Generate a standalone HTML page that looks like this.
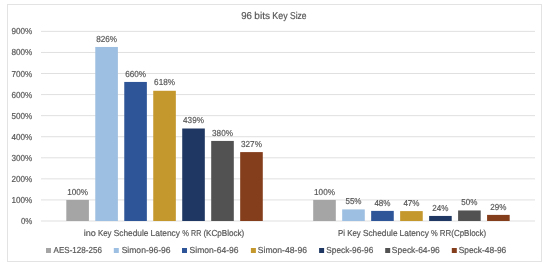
<!DOCTYPE html>
<html><head><meta charset="utf-8"><title>96 bits Key Size</title>
<style>
html,body{margin:0;padding:0;background:#fff;width:550px;height:268px;overflow:hidden}
svg{display:block;font-family:"Liberation Sans",Arial,sans-serif}
text{text-rendering:geometricPrecision;stroke-width:0.2px}
</style></head><body>
<svg width="550" height="268" viewBox="0 0 550 268">
<rect x="7.5" y="4.5" width="534" height="257" fill="#fff" stroke="#E3E3E3" stroke-width="1"/>
<rect x="41" y="220.50" width="494" height="1" fill="#E0E0E0"/>
<rect x="41" y="199.43" width="494" height="1" fill="#E0E0E0"/>
<rect x="41" y="178.36" width="494" height="1" fill="#E0E0E0"/>
<rect x="41" y="157.29" width="494" height="1" fill="#E0E0E0"/>
<rect x="41" y="136.22" width="494" height="1" fill="#E0E0E0"/>
<rect x="41" y="115.15" width="494" height="1" fill="#E0E0E0"/>
<rect x="41" y="94.08" width="494" height="1" fill="#E0E0E0"/>
<rect x="41" y="73.01" width="494" height="1" fill="#E0E0E0"/>
<rect x="41" y="51.94" width="494" height="1" fill="#E0E0E0"/>
<rect x="41" y="30.87" width="494" height="1" fill="#E0E0E0"/>
<rect x="66.30" y="199.93" width="22.6" height="21.07" fill="#A5A5A5"/>
<rect x="95.28" y="46.96" width="22.6" height="174.04" fill="#9DBFE1"/>
<rect x="124.26" y="81.94" width="22.6" height="139.06" fill="#2E5598"/>
<rect x="153.24" y="90.79" width="22.6" height="130.21" fill="#C5982D"/>
<rect x="182.22" y="128.50" width="22.6" height="92.50" fill="#1F3863"/>
<rect x="211.20" y="140.93" width="22.6" height="80.07" fill="#525252"/>
<rect x="240.18" y="152.10" width="22.6" height="68.90" fill="#853E1C"/>
<rect x="313.20" y="199.93" width="22.6" height="21.07" fill="#A5A5A5"/>
<rect x="342.18" y="209.41" width="22.6" height="11.59" fill="#9DBFE1"/>
<rect x="371.16" y="210.89" width="22.6" height="10.11" fill="#2E5598"/>
<rect x="400.14" y="211.10" width="22.6" height="9.90" fill="#C5982D"/>
<rect x="429.12" y="215.94" width="22.6" height="5.06" fill="#1F3863"/>
<rect x="458.10" y="210.47" width="22.6" height="10.53" fill="#525252"/>
<rect x="487.08" y="214.89" width="22.6" height="6.11" fill="#853E1C"/>
<rect x="46.0" y="248" width="5" height="5" fill="#A5A5A5"/>
<rect x="113.8" y="248" width="5" height="5" fill="#9DBFE1"/>
<rect x="182.0" y="248" width="5" height="5" fill="#2E5598"/>
<rect x="250.9" y="248" width="5" height="5" fill="#C5982D"/>
<rect x="319.1" y="248" width="5" height="5" fill="#1F3863"/>
<rect x="385.2" y="248" width="5" height="5" fill="#525252"/>
<rect x="451.8" y="248" width="5" height="5" fill="#853E1C"/>
<text y="194.63" font-size="8.68" fill="#595959" stroke="#595959"><tspan x="67.17" textLength="20.86" lengthAdjust="spacingAndGlyphs">100%</tspan></text>
<text y="41.66" font-size="8.68" fill="#595959" stroke="#595959"><tspan x="96.15" textLength="20.86" lengthAdjust="spacingAndGlyphs">826%</tspan></text>
<text y="76.64" font-size="8.68" fill="#595959" stroke="#595959"><tspan x="125.13" textLength="20.86" lengthAdjust="spacingAndGlyphs">660%</tspan></text>
<text y="85.49" font-size="8.68" fill="#595959" stroke="#595959"><tspan x="154.11" textLength="20.86" lengthAdjust="spacingAndGlyphs">618%</tspan></text>
<text y="123.20" font-size="8.68" fill="#595959" stroke="#595959"><tspan x="183.09" textLength="20.86" lengthAdjust="spacingAndGlyphs">439%</tspan></text>
<text y="135.63" font-size="8.68" fill="#595959" stroke="#595959"><tspan x="212.07" textLength="20.86" lengthAdjust="spacingAndGlyphs">380%</tspan></text>
<text y="146.80" font-size="8.68" fill="#595959" stroke="#595959"><tspan x="241.05" textLength="20.86" lengthAdjust="spacingAndGlyphs">327%</tspan></text>
<text y="194.63" font-size="8.68" fill="#595959" stroke="#595959"><tspan x="314.07" textLength="20.86" lengthAdjust="spacingAndGlyphs">100%</tspan></text>
<text y="204.11" font-size="8.68" fill="#595959" stroke="#595959"><tspan x="345.42" textLength="16.12" lengthAdjust="spacingAndGlyphs">55%</tspan></text>
<text y="205.59" font-size="8.68" fill="#595959" stroke="#595959"><tspan x="374.40" textLength="16.12" lengthAdjust="spacingAndGlyphs">48%</tspan></text>
<text y="205.80" font-size="8.68" fill="#595959" stroke="#595959"><tspan x="403.38" textLength="16.12" lengthAdjust="spacingAndGlyphs">47%</tspan></text>
<text y="210.64" font-size="8.68" fill="#595959" stroke="#595959"><tspan x="432.36" textLength="16.12" lengthAdjust="spacingAndGlyphs">24%</tspan></text>
<text y="205.16" font-size="8.68" fill="#595959" stroke="#595959"><tspan x="461.34" textLength="16.12" lengthAdjust="spacingAndGlyphs">50%</tspan></text>
<text y="209.59" font-size="8.68" fill="#595959" stroke="#595959"><tspan x="490.32" textLength="16.12" lengthAdjust="spacingAndGlyphs">29%</tspan></text>
<text y="224.00" font-size="8.68" fill="#595959" stroke="#595959"><tspan x="20.89" textLength="11.41" lengthAdjust="spacingAndGlyphs">0%</tspan></text>
<text y="202.93" font-size="8.68" fill="#595959" stroke="#595959"><tspan x="11.44" textLength="20.86" lengthAdjust="spacingAndGlyphs">100%</tspan></text>
<text y="181.86" font-size="8.68" fill="#595959" stroke="#595959"><tspan x="11.44" textLength="20.86" lengthAdjust="spacingAndGlyphs">200%</tspan></text>
<text y="160.79" font-size="8.68" fill="#595959" stroke="#595959"><tspan x="11.44" textLength="20.86" lengthAdjust="spacingAndGlyphs">300%</tspan></text>
<text y="139.72" font-size="8.68" fill="#595959" stroke="#595959"><tspan x="11.44" textLength="20.86" lengthAdjust="spacingAndGlyphs">400%</tspan></text>
<text y="118.65" font-size="8.68" fill="#595959" stroke="#595959"><tspan x="11.44" textLength="20.86" lengthAdjust="spacingAndGlyphs">500%</tspan></text>
<text y="97.58" font-size="8.68" fill="#595959" stroke="#595959"><tspan x="11.44" textLength="20.86" lengthAdjust="spacingAndGlyphs">600%</tspan></text>
<text y="76.51" font-size="8.68" fill="#595959" stroke="#595959"><tspan x="11.44" textLength="20.86" lengthAdjust="spacingAndGlyphs">700%</tspan></text>
<text y="55.44" font-size="8.68" fill="#595959" stroke="#595959"><tspan x="11.44" textLength="20.86" lengthAdjust="spacingAndGlyphs">800%</tspan></text>
<text y="34.37" font-size="8.68" fill="#595959" stroke="#595959"><tspan x="11.44" textLength="20.86" lengthAdjust="spacingAndGlyphs">900%</tspan></text>
<text y="19.00" font-size="9.97" fill="#595959" stroke="#595959"><tspan x="241.17" textLength="10.74" lengthAdjust="spacingAndGlyphs">96</tspan> <tspan x="254.29" textLength="15.69" lengthAdjust="spacingAndGlyphs">bits</tspan> <tspan x="272.36" textLength="15.31" lengthAdjust="spacingAndGlyphs">Key</tspan> <tspan x="290.05" textLength="16.53" lengthAdjust="spacingAndGlyphs">Size</tspan></text>
<text y="236.00" font-size="8.68" fill="#595959" stroke="#595959"><tspan x="83.69" textLength="12.11" lengthAdjust="spacingAndGlyphs">ino</tspan> <tspan x="97.93" textLength="13.66" lengthAdjust="spacingAndGlyphs">Key</tspan> <tspan x="113.71" textLength="34.79" lengthAdjust="spacingAndGlyphs">Schedule</tspan> <tspan x="150.62" textLength="29.40" lengthAdjust="spacingAndGlyphs">Latency</tspan> <tspan x="182.13" textLength="6.77" lengthAdjust="spacingAndGlyphs">%</tspan> <tspan x="191.02" textLength="10.26" lengthAdjust="spacingAndGlyphs">RR</tspan> <tspan x="203.40" textLength="40.85" lengthAdjust="spacingAndGlyphs">(KCpBlock)</tspan></text>
<text y="236.00" font-size="8.68" fill="#595959" stroke="#595959"><tspan x="338.07" textLength="7.02" lengthAdjust="spacingAndGlyphs">Pi</tspan> <tspan x="347.20" textLength="13.60" lengthAdjust="spacingAndGlyphs">Key</tspan> <tspan x="362.90" textLength="34.62" lengthAdjust="spacingAndGlyphs">Schedule</tspan> <tspan x="399.62" textLength="29.27" lengthAdjust="spacingAndGlyphs">Latency</tspan> <tspan x="431.00" textLength="6.74" lengthAdjust="spacingAndGlyphs">%</tspan> <tspan x="439.85" textLength="46.32" lengthAdjust="spacingAndGlyphs">RR(CpBlock)</tspan></text>
<text y="252.50" font-size="8.68" fill="#595959" stroke="#595959"><tspan x="53.57" textLength="48.34" lengthAdjust="spacingAndGlyphs">AES-128-256</tspan></text>
<text y="252.50" font-size="8.68" fill="#595959" stroke="#595959"><tspan x="121.65" textLength="48.99" lengthAdjust="spacingAndGlyphs">Simon-96-96</tspan></text>
<text y="252.50" font-size="8.68" fill="#595959" stroke="#595959"><tspan x="189.55" textLength="48.99" lengthAdjust="spacingAndGlyphs">Simon-64-96</tspan></text>
<text y="252.50" font-size="8.68" fill="#595959" stroke="#595959"><tspan x="257.75" textLength="49.19" lengthAdjust="spacingAndGlyphs">Simon-48-96</tspan></text>
<text y="252.50" font-size="8.68" fill="#595959" stroke="#595959"><tspan x="326.35" textLength="46.95" lengthAdjust="spacingAndGlyphs">Speck-96-96</tspan></text>
<text y="252.50" font-size="8.68" fill="#595959" stroke="#595959"><tspan x="391.84" textLength="47.97" lengthAdjust="spacingAndGlyphs">Speck-64-96</tspan></text>
<text y="252.50" font-size="8.68" fill="#595959" stroke="#595959"><tspan x="458.64" textLength="47.66" lengthAdjust="spacingAndGlyphs">Speck-48-96</tspan></text>
</svg>
</body></html>
